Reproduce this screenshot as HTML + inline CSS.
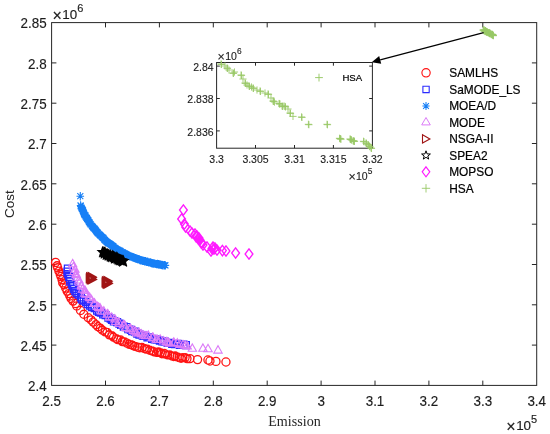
<!DOCTYPE html><html><head><meta charset="utf-8"><title>Pareto fronts</title><style>html,body{margin:0;padding:0;background:#fff}svg{display:block}</style></head><body><svg width="550" height="434" viewBox="0 0 550 434"><rect width="550" height="434" fill="#fff"/><rect x="51.6" y="22.6" width="485.1" height="362.8" fill="none" stroke="#262626" stroke-width="1"/><path d="M105.5 385.4v-4.8M105.5 22.6v4.8M159.4 385.4v-4.8M159.4 22.6v4.8M213.3 385.4v-4.8M213.3 22.6v4.8M267.2 385.4v-4.8M267.2 22.6v4.8M321.1 385.4v-4.8M321.1 22.6v4.8M375 385.4v-4.8M375 22.6v4.8M428.9 385.4v-4.8M428.9 22.6v4.8M482.8 385.4v-4.8M482.8 22.6v4.8M51.6 62.9h4.8M536.7 62.9h-4.8M51.6 103.2h4.8M536.7 103.2h-4.8M51.6 143.5h4.8M536.7 143.5h-4.8M51.6 183.8h4.8M536.7 183.8h-4.8M51.6 224.2h4.8M536.7 224.2h-4.8M51.6 264.5h4.8M536.7 264.5h-4.8M51.6 304.8h4.8M536.7 304.8h-4.8M51.6 345.1h4.8M536.7 345.1h-4.8" stroke="#262626" stroke-width="1" fill="none"/><g font-family="Liberation Sans, Arial, sans-serif" font-size="13.4" fill="#1c1c1c" stroke="#1c1c1c" stroke-width="0.15"><text transform="translate(51.6 406.4) scale(1 1.09)" text-anchor="middle">2.5</text><text transform="translate(105.5 406.4) scale(1 1.09)" text-anchor="middle">2.6</text><text transform="translate(159.4 406.4) scale(1 1.09)" text-anchor="middle">2.7</text><text transform="translate(213.3 406.4) scale(1 1.09)" text-anchor="middle">2.8</text><text transform="translate(267.2 406.4) scale(1 1.09)" text-anchor="middle">2.9</text><text transform="translate(321.1 406.4) scale(1 1.09)" text-anchor="middle">3</text><text transform="translate(375 406.4) scale(1 1.09)" text-anchor="middle">3.1</text><text transform="translate(428.9 406.4) scale(1 1.09)" text-anchor="middle">3.2</text><text transform="translate(482.8 406.4) scale(1 1.09)" text-anchor="middle">3.3</text><text transform="translate(536.7 406.4) scale(1 1.09)" text-anchor="middle">3.4</text><text transform="translate(46.6 28.4) scale(1 1.09)" text-anchor="end">2.85</text><text transform="translate(46.6 68.7) scale(1 1.09)" text-anchor="end">2.8</text><text transform="translate(46.6 109) scale(1 1.09)" text-anchor="end">2.75</text><text transform="translate(46.6 149.3) scale(1 1.09)" text-anchor="end">2.7</text><text transform="translate(46.6 189.6) scale(1 1.09)" text-anchor="end">2.65</text><text transform="translate(46.6 230) scale(1 1.09)" text-anchor="end">2.6</text><text transform="translate(46.6 270.3) scale(1 1.09)" text-anchor="end">2.55</text><text transform="translate(46.6 310.6) scale(1 1.09)" text-anchor="end">2.5</text><text transform="translate(46.6 350.9) scale(1 1.09)" text-anchor="end">2.45</text><text transform="translate(46.6 391.2) scale(1 1.09)" text-anchor="end">2.4</text><text x="52.4" y="19.2"><tspan font-size="16" dy="1.7">×</tspan><tspan dy="-1.7" dx="0.6">10</tspan><tspan dy="-7.2" font-size="11">6</tspan></text><text x="537.2" y="429.8" text-anchor="end"><tspan font-size="16" dy="1.7">×</tspan><tspan dy="-1.7" dx="0.6">10</tspan><tspan dy="-7.2" font-size="11">5</tspan></text></g><g font-family="Liberation Serif, Times New Roman, serif" font-size="14.1" fill="#262626"><text x="294.5" y="426.4" text-anchor="middle">Emission</text><text transform="translate(14.2 204.1) rotate(-90)" text-anchor="middle" font-family="Liberation Sans, Arial, sans-serif" font-size="13.5">Cost</text></g><path d="M51.5 262.4a4.05 4.05 0 1 0 8.1 0a4.05 4.05 0 1 0 -8.1 0zM53 265.8a4.05 4.05 0 1 0 8.1 0a4.05 4.05 0 1 0 -8.1 0zM53.6 267.8a4.05 4.05 0 1 0 8.1 0a4.05 4.05 0 1 0 -8.1 0zM54.9 271.2a4.05 4.05 0 1 0 8.1 0a4.05 4.05 0 1 0 -8.1 0zM56.2 274.4a4.05 4.05 0 1 0 8.1 0a4.05 4.05 0 1 0 -8.1 0zM56.9 276.5a4.05 4.05 0 1 0 8.1 0a4.05 4.05 0 1 0 -8.1 0zM58 279.7a4.05 4.05 0 1 0 8.1 0a4.05 4.05 0 1 0 -8.1 0zM58.7 282.9a4.05 4.05 0 1 0 8.1 0a4.05 4.05 0 1 0 -8.1 0zM60.2 284.9a4.05 4.05 0 1 0 8.1 0a4.05 4.05 0 1 0 -8.1 0zM61.6 288a4.05 4.05 0 1 0 8.1 0a4.05 4.05 0 1 0 -8.1 0zM63 291.1a4.05 4.05 0 1 0 8.1 0a4.05 4.05 0 1 0 -8.1 0zM64.7 293.6a4.05 4.05 0 1 0 8.1 0a4.05 4.05 0 1 0 -8.1 0zM65.8 296a4.05 4.05 0 1 0 8.1 0a4.05 4.05 0 1 0 -8.1 0zM67 298.4a4.05 4.05 0 1 0 8.1 0a4.05 4.05 0 1 0 -8.1 0zM69 301.2a4.05 4.05 0 1 0 8.1 0a4.05 4.05 0 1 0 -8.1 0zM71.5 303.5a4.05 4.05 0 1 0 8.1 0a4.05 4.05 0 1 0 -8.1 0zM72.7 306a4.05 4.05 0 1 0 8.1 0a4.05 4.05 0 1 0 -8.1 0zM76.5 310.5a4.05 4.05 0 1 0 8.1 0a4.05 4.05 0 1 0 -8.1 0zM79.8 314.3a4.05 4.05 0 1 0 8.1 0a4.05 4.05 0 1 0 -8.1 0zM84.2 317.7a4.05 4.05 0 1 0 8.1 0a4.05 4.05 0 1 0 -8.1 0zM87 319.9a4.05 4.05 0 1 0 8.1 0a4.05 4.05 0 1 0 -8.1 0zM89.1 322.1a4.05 4.05 0 1 0 8.1 0a4.05 4.05 0 1 0 -8.1 0zM91.9 324.6a4.05 4.05 0 1 0 8.1 0a4.05 4.05 0 1 0 -8.1 0zM93.9 326.7a4.05 4.05 0 1 0 8.1 0a4.05 4.05 0 1 0 -8.1 0zM96.3 328.3a4.05 4.05 0 1 0 8.1 0a4.05 4.05 0 1 0 -8.1 0zM98.4 330.3a4.05 4.05 0 1 0 8.1 0a4.05 4.05 0 1 0 -8.1 0zM101.1 331.9a4.05 4.05 0 1 0 8.1 0a4.05 4.05 0 1 0 -8.1 0zM103 332.4a4.05 4.05 0 1 0 8.1 0a4.05 4.05 0 1 0 -8.1 0zM105.3 334.8a4.05 4.05 0 1 0 8.1 0a4.05 4.05 0 1 0 -8.1 0zM107.7 335.6a4.05 4.05 0 1 0 8.1 0a4.05 4.05 0 1 0 -8.1 0zM109.5 337.2a4.05 4.05 0 1 0 8.1 0a4.05 4.05 0 1 0 -8.1 0zM112.3 338.7a4.05 4.05 0 1 0 8.1 0a4.05 4.05 0 1 0 -8.1 0zM113.7 339.6a4.05 4.05 0 1 0 8.1 0a4.05 4.05 0 1 0 -8.1 0zM116.5 340a4.05 4.05 0 1 0 8.1 0a4.05 4.05 0 1 0 -8.1 0zM118.3 341.6a4.05 4.05 0 1 0 8.1 0a4.05 4.05 0 1 0 -8.1 0zM120.5 341.9a4.05 4.05 0 1 0 8.1 0a4.05 4.05 0 1 0 -8.1 0zM122.9 343.1a4.05 4.05 0 1 0 8.1 0a4.05 4.05 0 1 0 -8.1 0zM124.9 344.3a4.05 4.05 0 1 0 8.1 0a4.05 4.05 0 1 0 -8.1 0zM127 344.6a4.05 4.05 0 1 0 8.1 0a4.05 4.05 0 1 0 -8.1 0zM128.7 345.5a4.05 4.05 0 1 0 8.1 0a4.05 4.05 0 1 0 -8.1 0zM130.9 346.4a4.05 4.05 0 1 0 8.1 0a4.05 4.05 0 1 0 -8.1 0zM133.7 347.2a4.05 4.05 0 1 0 8.1 0a4.05 4.05 0 1 0 -8.1 0zM135.6 347.7a4.05 4.05 0 1 0 8.1 0a4.05 4.05 0 1 0 -8.1 0zM137.9 347.5a4.05 4.05 0 1 0 8.1 0a4.05 4.05 0 1 0 -8.1 0zM140.2 348.5a4.05 4.05 0 1 0 8.1 0a4.05 4.05 0 1 0 -8.1 0zM142 349.1a4.05 4.05 0 1 0 8.1 0a4.05 4.05 0 1 0 -8.1 0zM143.4 349.2a4.05 4.05 0 1 0 8.1 0a4.05 4.05 0 1 0 -8.1 0zM145.7 350.3a4.05 4.05 0 1 0 8.1 0a4.05 4.05 0 1 0 -8.1 0zM148 350.9a4.05 4.05 0 1 0 8.1 0a4.05 4.05 0 1 0 -8.1 0zM149.7 351.7a4.05 4.05 0 1 0 8.1 0a4.05 4.05 0 1 0 -8.1 0zM152.5 352.4a4.05 4.05 0 1 0 8.1 0a4.05 4.05 0 1 0 -8.1 0zM154.4 352a4.05 4.05 0 1 0 8.1 0a4.05 4.05 0 1 0 -8.1 0zM156.3 352.7a4.05 4.05 0 1 0 8.1 0a4.05 4.05 0 1 0 -8.1 0zM157.9 353.7a4.05 4.05 0 1 0 8.1 0a4.05 4.05 0 1 0 -8.1 0zM160.2 353.5a4.05 4.05 0 1 0 8.1 0a4.05 4.05 0 1 0 -8.1 0zM161.4 354.1a4.05 4.05 0 1 0 8.1 0a4.05 4.05 0 1 0 -8.1 0zM163.6 354.9a4.05 4.05 0 1 0 8.1 0a4.05 4.05 0 1 0 -8.1 0zM165.7 354.9a4.05 4.05 0 1 0 8.1 0a4.05 4.05 0 1 0 -8.1 0zM167.9 356a4.05 4.05 0 1 0 8.1 0a4.05 4.05 0 1 0 -8.1 0zM169.6 356.5a4.05 4.05 0 1 0 8.1 0a4.05 4.05 0 1 0 -8.1 0zM171.1 356a4.05 4.05 0 1 0 8.1 0a4.05 4.05 0 1 0 -8.1 0zM173.2 356.9a4.05 4.05 0 1 0 8.1 0a4.05 4.05 0 1 0 -8.1 0zM175.1 357.6a4.05 4.05 0 1 0 8.1 0a4.05 4.05 0 1 0 -8.1 0zM177 358.2a4.05 4.05 0 1 0 8.1 0a4.05 4.05 0 1 0 -8.1 0zM178.8 357.6a4.05 4.05 0 1 0 8.1 0a4.05 4.05 0 1 0 -8.1 0zM181 357.6a4.05 4.05 0 1 0 8.1 0a4.05 4.05 0 1 0 -8.1 0zM182.9 358.6a4.05 4.05 0 1 0 8.1 0a4.05 4.05 0 1 0 -8.1 0zM185.9 358.6a4.05 4.05 0 1 0 8.1 0a4.05 4.05 0 1 0 -8.1 0zM193.5 359.6a4.05 4.05 0 1 0 8.1 0a4.05 4.05 0 1 0 -8.1 0zM203.9 360a4.05 4.05 0 1 0 8.1 0a4.05 4.05 0 1 0 -8.1 0zM205.9 361a4.05 4.05 0 1 0 8.1 0a4.05 4.05 0 1 0 -8.1 0zM211.9 361.4a4.05 4.05 0 1 0 8.1 0a4.05 4.05 0 1 0 -8.1 0zM221.9 362a4.05 4.05 0 1 0 8.1 0a4.05 4.05 0 1 0 -8.1 0z" fill="none" stroke="#ff1414" stroke-width="1.3" stroke-linejoin="miter"/><path d="M64.4 265.2h7v7h-7zM63.9 268.1h7v7h-7zM64.5 270.5h7v7h-7zM65.6 273.3h7v7h-7zM66.6 275.6h7v7h-7zM66.8 278.2h7v7h-7zM68.5 281.1h7v7h-7zM69.7 282.9h7v7h-7zM70.7 285.5h7v7h-7zM71.8 287.5h7v7h-7zM73.2 289.7h7v7h-7zM75.1 291h7v7h-7zM77.4 293.8h7v7h-7zM78.4 295.8h7v7h-7zM80.3 297.2h7v7h-7zM82.6 298.6h7v7h-7zM84.3 300.6h7v7h-7zM86.5 302.2h7v7h-7zM88.5 303.7h7v7h-7zM91.2 304.6h7v7h-7zM93.6 307h7v7h-7zM95.4 308.4h7v7h-7zM97.3 309.2h7v7h-7zM99.7 310.8h7v7h-7zM102.2 311.5h7v7h-7zM104.9 314h7v7h-7zM107.2 315.2h7v7h-7zM108.5 316.4h7v7h-7zM110.4 317.9h7v7h-7zM113.6 318.6h7v7h-7zM115.9 320.1h7v7h-7zM117.6 321.3h7v7h-7zM120.3 323h7v7h-7zM122.8 323.6h7v7h-7zM124.8 325.7h7v7h-7zM127.4 326.4h7v7h-7zM128.7 327.6h7v7h-7zM131.4 328.2h7v7h-7zM133.8 330h7v7h-7zM136 331.2h7v7h-7zM139.3 332h7v7h-7zM140.8 332.4h7v7h-7zM144 333.8h7v7h-7zM145.8 333.8h7v7h-7zM148.6 335.4h7v7h-7zM151.2 335.9h7v7h-7zM153.4 336.2h7v7h-7zM156.4 337.1h7v7h-7zM158.9 337.9h7v7h-7zM161.2 338.1h7v7h-7zM164.2 339.4h7v7h-7zM166.1 339.4h7v7h-7zM168.7 340.4h7v7h-7zM171.5 340.7h7v7h-7zM174.1 340.3h7v7h-7zM176.4 341.4h7v7h-7zM179.9 341.1h7v7h-7zM182.4 341.6h7v7h-7z" fill="none" stroke="#2a2aff" stroke-width="1.25" stroke-linejoin="miter"/><path d="M76.5 196.2h7.6M80.3 192v8.4M77.3 193.2l6 6M77.3 199.2l6 -6M76.8 205.5h7.6M80.6 201.3v8.4M77.6 202.4l6 6M77.6 208.5l6 -6M77.1 206.4h7.6M80.8 202.2v8.4M77.8 203.4l6 6M77.8 209.4l6 -6M77.7 207.7h7.6M81.5 203.5v8.4M78.4 204.6l6 6M78.4 210.7l6 -6M78 208.4h7.6M81.8 204.2v8.4M78.7 205.4l6 6M78.7 211.4l6 -6M78.5 209.2h7.6M82.2 205v8.4M79.2 206.2l6 6M79.2 212.2l6 -6M79.1 210.2h7.6M82.9 206v8.4M79.9 207.2l6 6M79.9 213.2l6 -6M79.1 211h7.6M82.9 206.8v8.4M79.9 208l6 6M79.9 214l6 -6M79.7 212.1h7.6M83.5 207.9v8.4M80.5 209.1l6 6M80.5 215.1l6 -6M80.1 213.1h7.6M83.9 208.9v8.4M80.9 210l6 6M80.9 216.1l6 -6M80.3 213.9h7.6M84.1 209.7v8.4M81.1 210.9l6 6M81.1 216.9l6 -6M80.9 214.9h7.6M84.7 210.7v8.4M81.6 211.9l6 6M81.6 218l6 -6M81.7 215.4h7.6M85.4 211.2v8.4M82.4 212.4l6 6M82.4 218.4l6 -6M81.9 216.5h7.6M85.7 212.3v8.4M82.6 213.5l6 6M82.6 219.5l6 -6M82.6 217.6h7.6M86.4 213.4v8.4M83.3 214.5l6 6M83.3 220.6l6 -6M83.2 218h7.6M87 213.8v8.4M83.9 215l6 6M83.9 221l6 -6M83.5 219h7.6M87.3 214.8v8.4M84.2 216l6 6M84.2 222l6 -6M84.3 219.9h7.6M88.1 215.7v8.4M85.1 216.9l6 6M85.1 222.9l6 -6M84.7 220.6h7.6M88.5 216.4v8.4M85.4 217.6l6 6M85.4 223.6l6 -6M85.1 221.8h7.6M88.9 217.6v8.4M85.9 218.8l6 6M85.9 224.8l6 -6M85.8 222.4h7.6M89.6 218.2v8.4M86.5 219.4l6 6M86.5 225.4l6 -6M86.2 223.2h7.6M89.9 219v8.4M86.9 220.2l6 6M86.9 226.3l6 -6M86.8 224.3h7.6M90.6 220.1v8.4M87.6 221.3l6 6M87.6 227.3l6 -6M87.2 224.7h7.6M91 220.5v8.4M87.9 221.6l6 6M87.9 227.7l6 -6M88.2 225.9h7.6M91.9 221.7v8.4M88.9 222.8l6 6M88.9 228.9l6 -6M88.6 226.2h7.6M92.4 222v8.4M89.4 223.2l6 6M89.4 229.3l6 -6M89.1 227.1h7.6M92.9 222.9v8.4M89.9 224.1l6 6M89.9 230.2l6 -6M89.9 227.9h7.6M93.6 223.7v8.4M90.6 224.9l6 6M90.6 231l6 -6M90.7 228.7h7.6M94.5 224.5v8.4M91.5 225.7l6 6M91.5 231.7l6 -6M91.4 229.2h7.6M95.1 225v8.4M92.1 226.2l6 6M92.1 232.3l6 -6M91.8 230.1h7.6M95.6 225.9v8.4M92.6 227.1l6 6M92.6 233.2l6 -6M92.4 230.9h7.6M96.2 226.7v8.4M93.2 227.9l6 6M93.2 233.9l6 -6M93.1 232h7.6M96.9 227.8v8.4M93.8 229l6 6M93.8 235l6 -6M94 232.7h7.6M97.8 228.5v8.4M94.8 229.7l6 6M94.8 235.7l6 -6M94.2 233.3h7.6M98 229.1v8.4M95 230.3l6 6M95 236.3l6 -6M95.3 234.2h7.6M99.1 230v8.4M96.1 231.2l6 6M96.1 237.2l6 -6M96 234.9h7.6M99.8 230.7v8.4M96.8 231.9l6 6M96.8 237.9l6 -6M96.4 235.3h7.6M100.2 231.1v8.4M97.2 232.3l6 6M97.2 238.4l6 -6M97.2 235.9h7.6M101 231.7v8.4M97.9 232.9l6 6M97.9 238.9l6 -6M98 236.9h7.6M101.8 232.7v8.4M98.8 233.8l6 6M98.8 239.9l6 -6M98.8 237.4h7.6M102.6 233.2v8.4M99.6 234.4l6 6M99.6 240.5l6 -6M99.6 238h7.6M103.4 233.8v8.4M100.4 234.9l6 6M100.4 241l6 -6M100.4 239.2h7.6M104.1 235v8.4M101.1 236.1l6 6M101.1 242.2l6 -6M100.7 239.9h7.6M104.5 235.7v8.4M101.5 236.8l6 6M101.5 242.9l6 -6M101.4 240.3h7.6M105.2 236.1v8.4M102.1 237.3l6 6M102.1 243.4l6 -6M102.2 241.1h7.6M106 236.9v8.4M103 238.1l6 6M103 244.1l6 -6M103 241.7h7.6M106.8 237.5v8.4M103.8 238.7l6 6M103.8 244.8l6 -6M103.9 242.5h7.6M107.7 238.3v8.4M104.6 239.5l6 6M104.6 245.5l6 -6M104.4 242.9h7.6M108.2 238.7v8.4M105.2 239.8l6 6M105.2 245.9l6 -6M105.5 243.5h7.6M109.3 239.3v8.4M106.2 240.5l6 6M106.2 246.5l6 -6M106.4 243.9h7.6M110.2 239.7v8.4M107.2 240.9l6 6M107.2 247l6 -6M107.2 244.6h7.6M111 240.4v8.4M108 241.5l6 6M108 247.6l6 -6M108 245.3h7.6M111.8 241.1v8.4M108.8 242.3l6 6M108.8 248.3l6 -6M108.8 245.8h7.6M112.6 241.6v8.4M109.6 242.7l6 6M109.6 248.8l6 -6M109.6 246.3h7.6M113.4 242.1v8.4M110.4 243.2l6 6M110.4 249.3l6 -6M109.9 247h7.6M113.7 242.8v8.4M110.7 244l6 6M110.7 250.1l6 -6M111.2 247.8h7.6M115 243.6v8.4M111.9 244.8l6 6M111.9 250.9l6 -6M111.7 248.2h7.6M115.4 244v8.4M112.4 245.2l6 6M112.4 251.2l6 -6M112.5 249.1h7.6M116.3 244.9v8.4M113.2 246.1l6 6M113.2 252.1l6 -6M113.4 249.5h7.6M117.2 245.3v8.4M114.2 246.5l6 6M114.2 252.5l6 -6M114.5 250h7.6M118.3 245.8v8.4M115.3 246.9l6 6M115.3 253l6 -6M115.2 250.6h7.6M119 246.4v8.4M116 247.6l6 6M116 253.6l6 -6M116 250.7h7.6M119.8 246.5v8.4M116.7 247.6l6 6M116.7 253.7l6 -6M116.9 251.2h7.6M120.7 247v8.4M117.6 248.2l6 6M117.6 254.2l6 -6M118 252h7.6M121.8 247.8v8.4M118.8 249l6 6M118.8 255.1l6 -6M118.8 252.5h7.6M122.6 248.3v8.4M119.6 249.5l6 6M119.6 255.5l6 -6M119.4 252.6h7.6M123.2 248.4v8.4M120.1 249.6l6 6M120.1 255.6l6 -6M120.3 253.4h7.6M124.1 249.2v8.4M121.1 250.4l6 6M121.1 256.5l6 -6M121.2 253.5h7.6M125 249.3v8.4M122 250.5l6 6M122 256.6l6 -6M122 254.1h7.6M125.8 249.9v8.4M122.8 251.1l6 6M122.8 257.1l6 -6M123.1 254.5h7.6M126.9 250.3v8.4M123.8 251.5l6 6M123.8 257.6l6 -6M123.8 255.1h7.6M127.6 250.9v8.4M124.5 252.1l6 6M124.5 258.2l6 -6M124.8 255.7h7.6M128.6 251.5v8.4M125.6 252.6l6 6M125.6 258.7l6 -6M125.9 256.3h7.6M129.7 252.1v8.4M126.7 253.3l6 6M126.7 259.4l6 -6M126.8 256.4h7.6M130.6 252.2v8.4M127.6 253.4l6 6M127.6 259.5l6 -6M127.4 256.6h7.6M131.2 252.4v8.4M128.1 253.6l6 6M128.1 259.7l6 -6M128.4 257h7.6M132.2 252.8v8.4M129.1 254l6 6M129.1 260.1l6 -6M129.4 257.3h7.6M133.2 253.1v8.4M130.2 254.2l6 6M130.2 260.3l6 -6M130.5 257.6h7.6M134.3 253.4v8.4M131.2 254.6l6 6M131.2 260.6l6 -6M131.3 258.1h7.6M135.1 253.9v8.4M132 255.1l6 6M132 261.2l6 -6M132.2 258.5h7.6M135.9 254.3v8.4M132.9 255.5l6 6M132.9 261.6l6 -6M133.2 258.7h7.6M136.9 254.5v8.4M133.9 255.7l6 6M133.9 261.8l6 -6M134 259.1h7.6M137.8 254.9v8.4M134.8 256.1l6 6M134.8 262.2l6 -6M135.3 259.3h7.6M139.1 255.1v8.4M136 256.3l6 6M136 262.4l6 -6M136.1 260h7.6M139.9 255.8v8.4M136.9 256.9l6 6M136.9 263l6 -6M136.9 260.2h7.6M140.7 256v8.4M137.7 257.1l6 6M137.7 263.2l6 -6M138 260.4h7.6M141.8 256.2v8.4M138.8 257.4l6 6M138.8 263.4l6 -6M138.9 260.8h7.6M142.7 256.6v8.4M139.7 257.8l6 6M139.7 263.8l6 -6M139.9 260.9h7.6M143.7 256.7v8.4M140.6 257.9l6 6M140.6 263.9l6 -6M140.8 261.2h7.6M144.6 257v8.4M141.5 258.1l6 6M141.5 264.2l6 -6M141.8 261.3h7.6M145.6 257.1v8.4M142.6 258.3l6 6M142.6 264.3l6 -6M143 261.9h7.6M146.8 257.7v8.4M143.8 258.8l6 6M143.8 264.9l6 -6M143.9 261.8h7.6M147.7 257.6v8.4M144.7 258.8l6 6M144.7 264.9l6 -6M144.9 262.4h7.6M148.7 258.2v8.4M145.7 259.4l6 6M145.7 265.4l6 -6M145.5 262.4h7.6M149.3 258.2v8.4M146.3 259.3l6 6M146.3 265.4l6 -6M146.7 262.5h7.6M150.5 258.3v8.4M147.4 259.5l6 6M147.4 265.5l6 -6M147.6 263h7.6M151.4 258.8v8.4M148.3 260l6 6M148.3 266l6 -6M148.4 263.2h7.6M152.2 259v8.4M149.2 260.2l6 6M149.2 266.2l6 -6M149.6 263.5h7.6M153.3 259.3v8.4M150.3 260.5l6 6M150.3 266.6l6 -6M150.4 263.4h7.6M154.1 259.2v8.4M151.1 260.4l6 6M151.1 266.4l6 -6M151.4 263.9h7.6M155.2 259.7v8.4M152.2 260.9l6 6M152.2 266.9l6 -6M152.7 264.1h7.6M156.5 259.9v8.4M153.5 261.1l6 6M153.5 267.1l6 -6M153.6 264h7.6M157.4 259.8v8.4M154.4 261l6 6M154.4 267l6 -6M154.6 264.2h7.6M158.4 260v8.4M155.4 261.2l6 6M155.4 267.2l6 -6M155.3 264.5h7.6M159.1 260.3v8.4M156 261.4l6 6M156 267.5l6 -6M156.3 264.4h7.6M160.1 260.2v8.4M157.1 261.4l6 6M157.1 267.5l6 -6M157.2 264.9h7.6M161 260.7v8.4M158 261.9l6 6M158 267.9l6 -6M158.3 265h7.6M162 260.8v8.4M159 262l6 6M159 268l6 -6M159.2 265.2h7.6M163 261v8.4M160 262.2l6 6M160 268.3l6 -6M160.7 265.2h7.6M164.4 261v8.4M161.4 262.2l6 6M161.4 268.2l6 -6M161.6 265.4h7.6M165.4 261.2v8.4M162.4 262.4l6 6M162.4 268.4l6 -6" fill="none" stroke="#167ff6" stroke-width="1.1" stroke-linejoin="miter"/><path d="M68.5 266.7L76.8 266.7L72.7 259.3zM69.2 269.9L77.5 269.9L73.3 262.5zM70.8 272.3L79.1 272.3L75 264.9zM69.9 274.6L78.2 274.6L74.1 267.2zM71.8 276.6L80.1 276.6L76 269.2zM72.2 277.6L80.5 277.6L76.4 270.2zM72.5 280.3L80.8 280.3L76.6 272.9zM74.8 283L83.1 283L79 275.6zM75.4 285.2L83.7 285.2L79.6 277.8zM77.1 288.1L85.4 288.1L81.2 280.7zM77.5 289.2L85.8 289.2L81.6 281.8zM78.3 292.1L86.6 292.1L82.4 284.7zM81 293.5L89.3 293.5L85.1 286.1zM80.6 296.3L88.9 296.3L84.8 288.9zM81.9 297.2L90.2 297.2L86 289.8zM84.8 299.7L93.1 299.7L88.9 292.3zM85.7 300.7L94 300.7L89.9 293.3zM87.4 302.7L95.7 302.7L91.5 295.3zM90.1 306L98.4 306L94.2 298.6zM90.6 306.5L98.9 306.5L94.8 299.1zM93.4 309.5L101.7 309.5L97.6 302.1zM94.7 310.4L103 310.4L98.8 303zM96 311L104.3 311L100.1 303.6zM97.4 314L105.7 314L101.5 306.6zM99.6 314.1L107.9 314.1L103.8 306.7zM103 317.1L111.3 317.1L107.2 309.7zM103.8 317L112.1 317L107.9 309.6zM105.2 319.9L113.5 319.9L109.4 312.5zM107.5 320.2L115.8 320.2L111.7 312.8zM110.8 321.9L119.1 321.9L114.9 314.5zM111.4 324.5L119.7 324.5L115.5 317.1zM114.6 324.9L122.9 324.9L118.8 317.5zM115.4 326.5L123.7 326.5L119.6 319.1zM119.1 328L127.4 328L123.3 320.6zM120.4 328L128.7 328L124.5 320.6zM121.6 330.6L129.9 330.6L125.7 323.2zM125.5 331.9L133.8 331.9L129.6 324.5zM126.5 331.6L134.8 331.6L130.6 324.2zM129.4 333.5L137.7 333.5L133.5 326.1zM131.1 334.1L139.4 334.1L135.3 326.7zM132.5 336L140.8 336L136.7 328.6zM134.9 335.3L143.2 335.3L139 327.9zM137.3 337L145.6 337L141.5 329.6zM139.7 338.2L148 338.2L143.8 330.8zM141.8 338.8L150.1 338.8L146 331.4zM144.1 338.3L152.4 338.3L148.3 330.9zM148.2 340.6L156.5 340.6L152.4 333.2zM148.8 340.2L157.1 340.2L153 332.8zM152 342.2L160.3 342.2L156.1 334.8zM153.5 342.4L161.8 342.4L157.6 335zM156.1 342.3L164.4 342.3L160.2 334.9zM159.5 344L167.8 344L163.7 336.6zM162.3 344.8L170.6 344.8L166.4 337.4zM163.7 345.1L172 345.1L167.9 337.7zM165.2 346.2L173.5 346.2L169.3 338.8zM169.5 345.3L177.8 345.3L173.7 337.9zM170 345.7L178.3 345.7L174.2 338.3zM173.1 346.1L181.4 346.1L177.3 338.7zM175.8 347.4L184.1 347.4L180 340zM178.9 347.7L187.2 347.7L183 340.3zM181.1 348.2L189.4 348.2L185.3 340.8zM183.1 349L191.4 349L187.2 341.6zM188.2 351.3L196.5 351.3L192.3 343.9zM198.8 351.3L207.1 351.3L202.9 343.9zM203.8 351.7L212.2 351.7L208 344.3zM213.8 353.1L222.2 353.1L218 345.7z" fill="none" stroke="#dc7cf8" stroke-width="1.1" stroke-linejoin="miter"/><path d="M86.7 272.8L86.7 281L94.1 276.9zM88.9 273.5L88.9 281.7L96.3 277.6zM87.1 275.3L87.1 283.5L94.5 279.4zM89.1 275.3L89.1 283.5L96.5 279.4zM87.9 274.1L87.9 282.3L95.3 278.2zM86.3 274.3L86.3 282.5L93.7 278.4zM88.3 272.6L88.3 280.8L95.7 276.7zM88.1 275.8L88.1 284L95.5 279.9zM102.5 276.9L102.5 285.1L109.9 281zM104.7 277.6L104.7 285.8L112.1 281.7zM102.9 279.4L102.9 287.6L110.3 283.5zM104.9 279.4L104.9 287.6L112.3 283.5zM103.7 278.2L103.7 286.4L111.1 282.3zM102.1 278.4L102.1 286.6L109.5 282.5zM104.1 276.7L104.1 284.9L111.5 280.8zM103.9 279.9L103.9 288.1L111.3 284z" fill="none" stroke="#a01515" stroke-width="1.3" stroke-linejoin="miter"/><path d="M102.5 247.5L103.7 250.5L106.9 250.6L104.3 252.7L105.2 255.8L102.5 254L99.8 255.8L100.7 252.7L98.2 250.6L101.4 250.5zM103.2 247.8L104.3 250.9L107.6 251L105 253L105.9 256.2L103.2 254.3L100.5 256.2L101.4 253L98.8 251L102.1 250.9zM104.3 248.3L105.4 251.3L108.7 251.4L106.1 253.4L107 256.6L104.3 254.8L101.6 256.6L102.5 253.4L99.9 251.4L103.2 251.3zM105.1 248L106.2 251L109.5 251.1L106.9 253.1L107.8 256.3L105.1 254.5L102.4 256.3L103.3 253.1L100.7 251.1L104 251zM104.4 249.2L105.5 252.2L108.8 252.3L106.2 254.3L107.1 257.5L104.4 255.7L101.7 257.5L102.6 254.3L100 252.3L103.3 252.2zM104.7 248.4L105.8 251.5L109.1 251.6L106.5 253.6L107.4 256.7L104.7 254.9L102 256.7L102.9 253.6L100.3 251.6L103.6 251.5zM105.2 248.6L106.3 251.7L109.6 251.8L107 253.8L107.9 256.9L105.2 255.1L102.5 256.9L103.4 253.8L100.8 251.8L104.1 251.7zM106.2 250.1L107.3 253.2L110.6 253.3L108 255.3L108.9 258.4L106.2 256.6L103.5 258.4L104.4 255.3L101.8 253.3L105.1 253.2zM107.2 250.1L108.4 253.2L111.6 253.3L109 255.3L109.9 258.5L107.2 256.6L104.5 258.5L105.4 255.3L102.9 253.3L106.1 253.2zM106.9 249.5L108 252.6L111.2 252.7L108.7 254.7L109.6 257.8L106.9 256L104.2 257.8L105.1 254.7L102.5 252.7L105.7 252.6zM107.7 249.9L108.8 252.9L112.1 253L109.5 255L110.4 258.2L107.7 256.4L105 258.2L105.9 255L103.3 253L106.6 252.9zM108.2 250.8L109.4 253.9L112.6 254L110 256L110.9 259.1L108.2 257.3L105.5 259.1L106.4 256L103.9 254L107.1 253.9zM109.2 250.7L110.3 253.8L113.6 253.9L111 255.9L111.9 259L109.2 257.2L106.5 259L107.4 255.9L104.8 253.9L108.1 253.8zM108.7 250.4L109.8 253.4L113 253.5L110.5 255.6L111.4 258.7L108.7 256.9L106 258.7L106.9 255.6L104.3 253.5L107.5 253.4zM108.9 250.9L110 253.9L113.3 254L110.7 256L111.6 259.2L108.9 257.4L106.2 259.2L107.1 256L104.5 254L107.8 253.9zM110.1 251.7L111.2 254.7L114.5 254.9L111.9 256.9L112.8 260L110.1 258.2L107.4 260L108.3 256.9L105.8 254.9L109 254.7zM110.4 250.6L111.5 253.7L114.7 253.8L112.2 255.8L113.1 258.9L110.4 257.1L107.7 258.9L108.6 255.8L106 253.8L109.3 253.7zM110.8 252.3L111.9 255.4L115.1 255.5L112.6 257.5L113.5 260.6L110.8 258.8L108 260.6L108.9 257.5L106.4 255.5L109.6 255.4zM111.9 251.9L113.1 254.9L116.3 255L113.8 257.1L114.7 260.2L111.9 258.4L109.2 260.2L110.1 257.1L107.6 255L110.8 254.9zM112.3 251.5L113.4 254.6L116.7 254.7L114.1 256.7L115 259.8L112.3 258L109.6 259.8L110.5 256.7L107.9 254.7L111.2 254.6zM111.9 252.6L113 255.7L116.2 255.8L113.7 257.8L114.6 261L111.9 259.1L109.2 261L110.1 257.8L107.5 255.8L110.7 255.7zM113 251.8L114.2 254.8L117.4 254.9L114.8 256.9L115.7 260.1L113 258.3L110.3 260.1L111.2 256.9L108.7 254.9L111.9 254.8zM113.9 252.5L115 255.5L118.3 255.6L115.7 257.7L116.6 260.8L113.9 259L111.2 260.8L112.1 257.7L109.5 255.6L112.8 255.5zM114.5 252.9L115.6 256L118.9 256.1L116.3 258.1L117.2 261.2L114.5 259.4L111.8 261.2L112.7 258.1L110.2 256.1L113.4 256zM113.6 252.6L114.8 255.7L118 255.8L115.4 257.8L116.3 261L113.6 259.1L110.9 261L111.8 257.8L109.3 255.8L112.5 255.7zM115.3 253.8L116.4 256.9L119.7 257L117.1 259L118 262.1L115.3 260.3L112.6 262.1L113.5 259L110.9 257L114.2 256.9zM114.6 253.7L115.8 256.8L119 256.9L116.5 258.9L117.4 262.1L114.6 260.2L111.9 262.1L112.8 258.9L110.3 256.9L113.5 256.8zM116.1 253.1L117.2 256.2L120.5 256.3L117.9 258.3L118.8 261.5L116.1 259.6L113.4 261.5L114.3 258.3L111.7 256.3L115 256.2zM116.4 253.3L117.5 256.4L120.8 256.5L118.2 258.5L119.1 261.7L116.4 259.8L113.7 261.7L114.6 258.5L112.1 256.5L115.3 256.4zM117.4 253.4L118.6 256.5L121.8 256.6L119.2 258.6L120.1 261.7L117.4 259.9L114.7 261.7L115.6 258.6L113.1 256.6L116.3 256.5zM117.4 254.4L118.5 257.4L121.8 257.6L119.2 259.6L120.1 262.7L117.4 260.9L114.7 262.7L115.6 259.6L113.1 257.6L116.3 257.4zM117.1 254L118.2 257.1L121.4 257.2L118.9 259.2L119.8 262.3L117.1 260.5L114.4 262.3L115.3 259.2L112.7 257.2L115.9 257.1zM118.4 254.8L119.6 257.8L122.8 257.9L120.2 259.9L121.1 263.1L118.4 261.3L115.7 263.1L116.6 259.9L114.1 257.9L117.3 257.8zM118.3 255.4L119.4 258.4L122.7 258.6L120.1 260.6L121 263.7L118.3 261.9L115.6 263.7L116.5 260.6L113.9 258.6L117.2 258.4zM119.6 255.7L120.7 258.7L124 258.9L121.4 260.9L122.3 264L119.6 262.2L116.9 264L117.8 260.9L115.3 258.9L118.5 258.7zM118.9 254.8L120 257.8L123.3 257.9L120.7 259.9L121.6 263.1L118.9 261.3L116.2 263.1L117.1 259.9L114.5 257.9L117.8 257.8zM119.8 255.3L120.9 258.3L124.2 258.5L121.6 260.5L122.5 263.6L119.8 261.8L117.1 263.6L118 260.5L115.4 258.5L118.7 258.3zM120.8 255.6L121.9 258.7L125.2 258.8L122.6 260.8L123.5 263.9L120.8 262.1L118.1 263.9L119 260.8L116.4 258.8L119.7 258.7zM120.5 255.8L121.6 258.8L124.9 259L122.3 261L123.2 264.1L120.5 262.3L117.8 264.1L118.7 261L116.1 259L119.4 258.8zM121.7 256L122.8 259.1L126.1 259.2L123.5 261.2L124.4 264.4L121.7 262.5L119 264.4L119.9 261.2L117.3 259.2L120.6 259.1zM122.3 256.3L123.4 259.4L126.6 259.5L124.1 261.5L125 264.6L122.3 262.8L119.6 264.6L120.5 261.5L117.9 259.5L121.2 259.4zM122.8 257L123.9 260L127.2 260.1L124.6 262.2L125.5 265.3L122.8 263.5L120.1 265.3L121 262.2L118.4 260.1L121.7 260zM123.5 256.5L124.6 259.6L127.9 259.7L125.3 261.7L126.2 264.8L123.5 263L120.8 264.8L121.7 261.7L119.1 259.7L122.4 259.6zM123.3 256.8L124.4 259.8L127.6 259.9L125.1 262L126 265.1L123.3 263.3L120.6 265.1L121.5 262L118.9 259.9L122.2 259.8z" fill="none" stroke="#000" stroke-width="1.3" stroke-linejoin="miter"/><path d="M183.4 204.8L187.3 210L183.4 215.2L179.5 210zM181.6 213.8L185.5 219L181.6 224.2L177.7 219zM184.4 218.8L188.3 224L184.4 229.2L180.5 224zM185.6 221.8L189.5 227L185.6 232.2L181.7 227zM190 225.8L193.9 231L190 236.2L186.1 231zM192 227.8L195.9 233L192 238.2L188.1 233zM195 228.8L198.9 234L195 239.2L191.1 234zM196 231.2L199.9 236.5L196 241.8L192.1 236.5zM197 230.8L200.9 236L197 241.2L193.1 236zM198 233.2L201.9 238.5L198 243.8L194.1 238.5zM199 232.8L202.9 238L199 243.2L195.1 238zM200 234.8L203.9 240L200 245.2L196.1 240zM201 237.2L204.9 242.5L201 247.8L197.1 242.5zM202 237.8L205.9 243L202 248.2L198.1 243zM203 239.8L206.9 245L203 250.2L199.1 245zM207 241.8L210.9 247L207 252.2L203.1 247zM211 245.8L214.9 251L211 256.2L207.1 251zM212 243.2L215.9 248.5L212 253.8L208.1 248.5zM213 241.8L216.9 247L213 252.2L209.1 247zM214 243.8L217.9 249L214 254.2L210.1 249zM215 242.8L218.9 248L215 253.2L211.1 248zM217 244.8L220.9 250L217 255.2L213.1 250zM222.4 245.3L226.3 250.6L222.4 255.8L218.5 250.6zM226 245.8L229.9 251L226 256.2L222.1 251zM235.6 247.8L239.5 253L235.6 258.2L231.7 253zM249 248.8L252.9 254L249 259.2L245.1 254z" fill="none" stroke="#ff1aff" stroke-width="1.35" stroke-linejoin="miter"/><path d="M479.7 29.8h7.2M483.3 26.2v7.2M479.7 30.4h7.2M483.3 26.8v7.2M480.7 29.9h7.2M484.3 26.3v7.2M480.7 31.2h7.2M484.3 27.6v7.2M481.7 30.8h7.2M485.3 27.2v7.2M481.9 30.8h7.2M485.5 27.2v7.2M481.6 31.6h7.2M485.2 28v7.2M481.9 31h7.2M485.5 27.4v7.2M482.9 31.4h7.2M486.5 27.8v7.2M483 32.3h7.2M486.6 28.7v7.2M482.7 31.7h7.2M486.3 28.1v7.2M483.8 32.5h7.2M487.4 28.9v7.2M483.9 31.9h7.2M487.5 28.3v7.2M484.7 32.6h7.2M488.3 29v7.2M485 32.9h7.2M488.6 29.3v7.2M485.6 32.6h7.2M489.2 29v7.2M485.7 32.9h7.2M489.3 29.3v7.2M486.3 33.3h7.2M489.9 29.7v7.2M485.9 33.5h7.2M489.5 29.9v7.2M486.4 33.2h7.2M490 29.6v7.2M486.4 33.7h7.2M490 30.1v7.2M487.7 34.5h7.2M491.3 30.9v7.2M487.2 33.9h7.2M490.8 30.3v7.2M488.1 34.6h7.2M491.7 31v7.2M488.4 34.1h7.2M492 30.5v7.2M489.1 34.6h7.2M492.7 31v7.2M489 34.8h7.2M492.6 31.2v7.2M489 35.1h7.2M492.6 31.5v7.2M489.7 35.4h7.2M493.3 31.8v7.2M489.7 35.7h7.2M493.3 32.1v7.2" fill="none" stroke="#98c866" stroke-width="0.9" stroke-linejoin="miter"/><path d="M421.9 72.8a4.15 4.15 0 1 0 8.3 0a4.15 4.15 0 1 0 -8.3 0z" fill="none" stroke="#ff1414" stroke-width="1.15" stroke-linejoin="miter"/><path d="M422.9 86.3h6.3v6.3h-6.3z" fill="none" stroke="#2a2aff" stroke-width="1.1" stroke-linejoin="miter"/><path d="M422.4 106h7.2M426 102v8M423.1 103.1l5.8 5.8M423.1 108.9l5.8 -5.8" fill="none" stroke="#167ff6" stroke-width="1.05" stroke-linejoin="miter"/><path d="M421.7 124.9L430.3 124.9L426 117.5z" fill="none" stroke="#dc7cf8" stroke-width="1.0" stroke-linejoin="miter"/><path d="M422.5 134.8L422.5 143L429.9 138.9z" fill="none" stroke="#a01515" stroke-width="1.1" stroke-linejoin="miter"/><path d="M426 150.8L427.1 153.9L430.4 154L427.8 156L428.7 159.1L426 157.3L423.3 159.1L424.2 156L421.6 154L424.9 153.9z" fill="none" stroke="#000" stroke-width="1.0" stroke-linejoin="miter"/><path d="M426 166.8L429.8 171.8L426 176.8L422.2 171.8z" fill="none" stroke="#ff1aff" stroke-width="1.15" stroke-linejoin="miter"/><path d="M421.8 188.3h8.4M426 184.1v8.4" fill="none" stroke="#98c866" stroke-width="0.9" stroke-linejoin="miter"/><g font-family="Liberation Sans, Arial, sans-serif" font-size="11.9" fill="#000" stroke="#000" stroke-width="0.2"><text transform="translate(449.2 77.2) scale(1 1.05)">SAMLHS</text><text transform="translate(449.2 93.7) scale(1 1.05)">SaMODE_LS</text><text transform="translate(449.2 110.2) scale(1 1.05)">MOEA/D</text><text transform="translate(449.2 126.6) scale(1 1.05)">MODE</text><text transform="translate(449.2 143.1) scale(1 1.05)">NSGA-II</text><text transform="translate(449.2 159.6) scale(1 1.05)">SPEA2</text><text transform="translate(449.2 176) scale(1 1.05)">MOPSO</text><text transform="translate(449.2 192.5) scale(1 1.05)">HSA</text></g><rect x="216.6" y="62.5" width="155.79999999999998" height="85.7" fill="#fff" stroke="#262626" stroke-width="1"/><path d="M217.4 64h7.2M221 60.4v7.2M221.4 66h7.2M225 62.4v7.2M223.4 68h7.2M227 64.4v7.2M225.4 70h7.2M229 66.4v7.2M229.4 73h7.2M233 69.4v7.2M230.9 72h7.2M234.5 68.4v7.2M237.4 75h7.2M241 71.4v7.2M239.4 79h7.2M243 75.4v7.2M241.4 83h7.2M245 79.4v7.2M243.4 85h7.2M247 81.4v7.2M245.4 86h7.2M249 82.4v7.2M247.9 87h7.2M251.5 83.4v7.2M249.4 88h7.2M253 84.4v7.2M253.4 90h7.2M257 86.4v7.2M256.4 91h7.2M260 87.4v7.2M261.4 93h7.2M265 89.4v7.2M264.4 94h7.2M268 90.4v7.2M267.4 98h7.2M271 94.4v7.2M269.4 101h7.2M273 97.4v7.2M270.9 102h7.2M274.5 98.4v7.2M275.4 103.5h7.2M279 99.9v7.2M276.4 104h7.2M280 100.4v7.2M278.4 106h7.2M282 102.4v7.2M280.4 106h7.2M284 102.4v7.2M281.4 106.5h7.2M285 102.9v7.2M284.4 109h7.2M288 105.4v7.2M286.4 113h7.2M290 109.4v7.2M289.4 116.4h7.2M293 112.8v7.2M297.9 117h7.2M301.5 113.4v7.2M304.8 124.3h7.2M308.4 120.7v7.2M323.4 124.3h7.2M327 120.7v7.2M335.9 138.3h7.2M339.5 134.7v7.2M336.9 138.8h7.2M340.5 135.2v7.2M346.4 139h7.2M350 135.4v7.2M347.4 139.6h7.2M351 136v7.2M349.4 140.7h7.2M353 137.1v7.2M350.4 141h7.2M354 137.4v7.2M359.9 141.3h7.2M363.5 137.7v7.2M362.4 143h7.2M366 139.4v7.2M364.4 144.6h7.2M368 141v7.2M365.9 146.4h7.2M369.5 142.8v7.2M367.4 148h7.2M371 144.4v7.2" fill="none" stroke="#98c866" stroke-width="0.85" stroke-linejoin="miter"/><path d="M217.9 64.4h7.2M221.5 60.8v7.2M223.9 68.4h7.2M227.5 64.8v7.2M229.9 73.4h7.2M233.5 69.8v7.2M237.9 75.4h7.2M241.5 71.8v7.2M241.9 83.4h7.2M245.5 79.8v7.2M245.9 86.4h7.2M249.5 82.8v7.2M249.9 88.4h7.2M253.5 84.8v7.2M256.9 91.4h7.2M260.5 87.8v7.2M264.9 94.4h7.2M268.5 90.8v7.2M269.9 101.4h7.2M273.5 97.8v7.2M275.9 103.9h7.2M279.5 100.3v7.2M278.9 106.4h7.2M282.5 102.8v7.2M281.9 106.9h7.2M285.5 103.3v7.2M286.9 113.4h7.2M290.5 109.8v7.2M298.4 117.4h7.2M302 113.8v7.2M305.3 124.7h7.2M308.9 121.1v7.2M323.9 124.7h7.2M327.5 121.1v7.2M336.4 138.7h7.2M340 135.1v7.2M337.4 139.2h7.2M341 135.6v7.2M346.9 139.4h7.2M350.5 135.8v7.2M347.9 140h7.2M351.5 136.4v7.2M349.9 141.1h7.2M353.5 137.5v7.2M350.9 141.4h7.2M354.5 137.8v7.2M360.4 141.7h7.2M364 138.1v7.2M362.9 143.4h7.2M366.5 139.8v7.2M364.9 145h7.2M368.5 141.4v7.2M366.4 146.8h7.2M370 143.2v7.2M367.9 148.4h7.2M371.5 144.8v7.2" fill="none" stroke="#98c866" stroke-width="0.85" stroke-linejoin="miter"/><path d="M255.5 148.2v-3.2M255.5 62.5v3.2M294.5 148.2v-3.2M294.5 62.5v3.2M333.4 148.2v-3.2M333.4 62.5v3.2M216.6 66.1h3.2M372.4 66.1h-3.2M216.6 98.5h3.2M372.4 98.5h-3.2M216.6 130.9h3.2M372.4 130.9h-3.2" stroke="#262626" stroke-width="1" fill="none"/><g font-family="Liberation Sans, Arial, sans-serif" font-size="10.5" fill="#1c1c1c" stroke="#1c1c1c" stroke-width="0.12"><text transform="translate(216.6 162.9) scale(1 1.06)" text-anchor="middle">3.3</text><text transform="translate(255.5 162.9) scale(1 1.06)" text-anchor="middle">3.305</text><text transform="translate(294.5 162.9) scale(1 1.06)" text-anchor="middle">3.31</text><text transform="translate(333.4 162.9) scale(1 1.06)" text-anchor="middle">3.315</text><text transform="translate(372.4 162.9) scale(1 1.06)" text-anchor="middle">3.32</text><text transform="translate(213.6 70.8) scale(1 1.06)" text-anchor="end">2.84</text><text transform="translate(213.6 103.2) scale(1 1.06)" text-anchor="end">2.838</text><text transform="translate(213.6 135.6) scale(1 1.06)" text-anchor="end">2.836</text><text x="217.6" y="60"><tspan font-size="12.4" dy="1.3">×</tspan><tspan dy="-1.3" dx="0.4">10</tspan><tspan dy="-5.8" font-size="8.4">6</tspan></text><text x="372.4" y="179.6" text-anchor="end"><tspan font-size="12.4" dy="1.3">×</tspan><tspan dy="-1.3" dx="0.4">10</tspan><tspan dy="-5.2" font-size="8.4">5</tspan></text></g><path d="M315.1 77.6h7.8M319 73.7v7.8" fill="none" stroke="#98c866" stroke-width="0.95" stroke-linejoin="miter"/><text x="342.4" y="81.2" font-family="Liberation Sans, Arial, sans-serif" font-size="9.6" fill="#000" stroke="#000" stroke-width="0.2">HSA</text><path d="M483.6 32.6L380.2 59.9" stroke="#000" stroke-width="1.1" fill="none"/><path d="M371.7 62.2L379.2 56.1L381.2 63.8z" fill="#000"/></svg></body></html>
